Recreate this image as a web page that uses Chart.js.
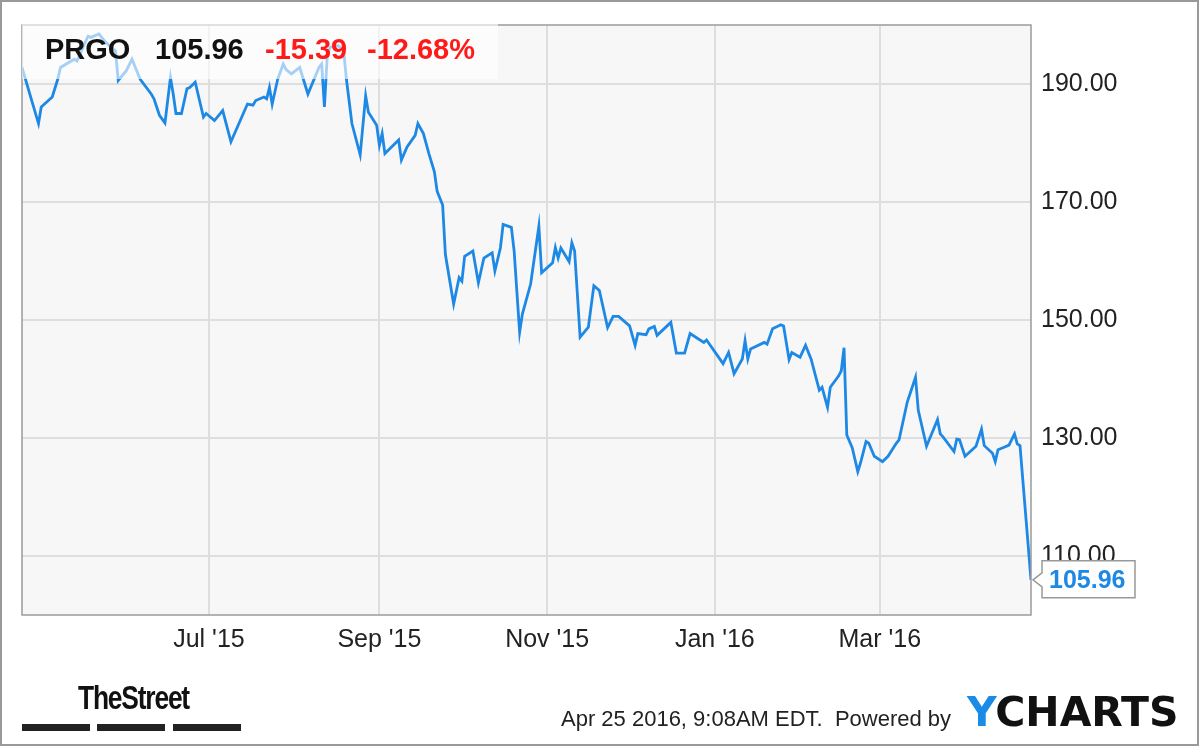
<!DOCTYPE html>
<html>
<head>
<meta charset="utf-8">
<script src="https://cdn.jsdelivr.net/npm/chart.js@4.4.1/dist/chart.umd.min.js"></script>
<style>
  html, body { margin: 0; padding: 0; background: #fff; }
  #wrap { position: relative; width: 1200px; height: 747px; overflow: hidden; font-family: "Liberation Sans", Arial, sans-serif; }
  #chart { position: absolute; left: 0; top: 0; }
  .frame { position: absolute; left: 0; top: 0; width: 1199px; height: 746px; box-sizing: border-box; border: 2px solid #999; pointer-events: none; }
  .head { position: absolute; left: 22px; top: 22px; width: 476px; height: 57px; background: rgba(255,255,255,0.6); }
  .hd { position: absolute; top: 35px; font-size: 29px; line-height: 29px; font-weight: bold; white-space: nowrap; }
  .street { position: absolute; left: 78px; top: 681px; font-family: "Liberation Sans", Arial, sans-serif; font-weight: bold; font-size: 33px; line-height: 33px; letter-spacing: -1.5px; color: #111; transform: scaleX(0.8); transform-origin: 0 0; }
  .bar { position: absolute; top: 724px; height: 7px; background: #222; }
  .stamp { position: absolute; left: 561px; top: 708px; font-size: 22px; line-height: 22px; color: #222; white-space: nowrap; }
  .ych { position: absolute; left: 967px; top: 692px; font-family: "DejaVu Sans", sans-serif; font-weight: bold; font-size: 41px; line-height: 41px; color: #111; white-space: nowrap; }
</style>
</head>
<body>
<div id="wrap">
  <canvas id="chart" width="1200" height="747"></canvas>
  <div class="head"></div>
  <div class="hd" style="left:45px;color:#111">PRGO</div>
  <div class="hd" style="left:155px;color:#111">105.96</div>
  <div class="hd" style="left:265px;color:#ff1a1a">-15.39</div>
  <div class="hd" style="left:367px;color:#ff1a1a">-12.68%</div>
  <div class="street">TheStreet</div>
  <div class="bar" style="left:22px;width:68px"></div>
  <div class="bar" style="left:97px;width:68px"></div>
  <div class="bar" style="left:173px;width:68px"></div>
  <div class="stamp">Apr 25 2016, 9:08AM EDT.&nbsp; Powered by</div>
  <div class="ych"><span style="color:#1a8be6">Y</span>CHARTS</div>
  <div class="frame"></div>
</div>
<script>
// PRGO daily close
const dates = [
  '2015-04-24','2015-04-30','2015-05-01','2015-05-05','2015-05-07','2015-05-08','2015-05-13','2015-05-14',
  '2015-05-18','2015-05-19','2015-05-22','2015-05-24','2015-05-28','2015-05-29','2015-06-01','2015-06-03',
  '2015-06-06','2015-06-10','2015-06-11','2015-06-13','2015-06-15','2015-06-17','2015-06-18','2015-06-19',
  '2015-06-21','2015-06-23','2015-06-24','2015-06-26','2015-06-29','2015-06-30','2015-07-03','2015-07-06',
  '2015-07-09','2015-07-15','2015-07-17','2015-07-18','2015-07-21','2015-07-22','2015-07-23','2015-07-24',
  '2015-07-26','2015-07-28','2015-07-29','2015-07-31','2015-08-03','2015-08-06','2015-08-10','2015-08-11',
  '2015-08-12','2015-08-13','2015-08-14','2015-08-17','2015-08-19','2015-08-20','2015-08-22','2015-08-25',
  '2015-08-27','2015-08-28','2015-08-31','2015-09-01','2015-09-02','2015-09-03','2015-09-08','2015-09-09',
  '2015-09-11','2015-09-14','2015-09-15','2015-09-17','2015-09-19','2015-09-21','2015-09-22','2015-09-24',
  '2015-09-25','2015-09-28','2015-09-30','2015-10-01','2015-10-02','2015-10-05','2015-10-07','2015-10-09',
  '2015-10-12','2015-10-13','2015-10-15','2015-10-16','2015-10-19','2015-10-20','2015-10-22','2015-10-23',
  '2015-10-26','2015-10-29','2015-10-30','2015-11-03','2015-11-04','2015-11-05','2015-11-06','2015-11-09',
  '2015-11-10','2015-11-11','2015-11-13','2015-11-16','2015-11-18','2015-11-20','2015-11-23','2015-11-25',
  '2015-11-27','2015-12-01','2015-12-03','2015-12-04','2015-12-07','2015-12-08','2015-12-10','2015-12-11',
  '2015-12-16','2015-12-18','2015-12-21','2015-12-23','2015-12-28','2015-12-29','2016-01-04','2016-01-06',
  '2016-01-08','2016-01-11','2016-01-12','2016-01-13','2016-01-14','2016-01-19','2016-01-20','2016-01-22',
  '2016-01-25','2016-01-26','2016-01-28','2016-01-29','2016-02-01','2016-02-03','2016-02-05','2016-02-08',
  '2016-02-09','2016-02-11','2016-02-12','2016-02-15','2016-02-16','2016-02-17','2016-02-18','2016-02-20',
  '2016-02-22','2016-02-23','2016-02-25','2016-02-26','2016-02-28','2016-03-02','2016-03-04','2016-03-07',
  '2016-03-08','2016-03-11','2016-03-14','2016-03-15','2016-03-18','2016-03-22','2016-03-23','2016-03-24',
  '2016-03-28','2016-03-29','2016-03-30','2016-04-01','2016-04-05','2016-04-07','2016-04-08','2016-04-11',
  '2016-04-12','2016-04-13','2016-04-15','2016-04-17','2016-04-19','2016-04-20','2016-04-21','2016-04-25'
];
const prices = [
  192.8,183.3,186.1,187.8,190.8,192.8,194.2,193.9,
  198.1,197.9,198.5,197.3,195.6,190.6,192.3,194.2,
  190.8,188.3,187.5,184.7,183.4,191.1,188.3,185.0,
  185.0,189.2,189.4,190.3,184.4,185.0,183.8,185.5,
  180.2,186.6,186.4,187.2,187.8,187.5,189.4,186.6,
  190.8,193.4,192.5,191.7,192.8,188.3,192.8,193.4,
  186.1,194.5,196.2,196.5,195.6,190.8,183.3,178.0,
  188.0,185.2,183.0,179.6,181.6,178.2,180.5,177.1,
  179.3,181.3,183.3,181.6,178.2,175.1,171.8,169.5,
  161.1,152.7,157.2,156.6,160.8,161.7,156.3,160.5,
  161.4,158.3,162.2,166.2,165.7,161.7,147.9,151.0,
  156.1,165.9,158.0,159.7,162.3,160.5,162.2,159.9,
  163.1,161.7,147.1,148.8,155.8,155.0,148.7,150.6,
  150.6,149.0,145.7,147.7,147.5,148.5,148.9,147.4,
  149.6,144.4,144.4,147.7,146.2,146.6,142.6,144.5,
  140.9,143.4,146.5,143.4,145.1,146.2,145.9,148.5,
  149.2,149.0,143.3,144.5,143.7,145.7,143.4,138.1,
  138.6,135.2,138.6,140.5,141.4,145.3,130.5,128.3,
  124.3,125.8,129.4,129.1,126.9,126.0,126.9,129.1,
  129.7,136.1,140.3,134.7,128.6,133.1,130.7,130.2,
  127.7,129.8,129.7,126.9,128.6,131.5,128.7,127.4,
  126.0,128.0,128.4,128.8,130.7,129.0,128.7,105.96
];
const xTickDates = ['2015-07-01', '2015-09-01', '2015-11-01', '2016-01-01', '2016-03-01'];
const xTickLabels = ["Jul '15", "Sep '15", "Nov '15", "Jan '16", "Mar '16"];
const yTicks = [110, 130, 150, 170, 190];

const lineBlue = '#1e88e5';
const xTickVals = xTickDates.map(d => Date.parse(d));

const plotFrame = {
  id: 'plotFrame',
  beforeDraw(chart) {
    const a = chart.chartArea, c = chart.ctx;
    c.save();
    c.fillStyle = '#f7f7f7';
    c.fillRect(a.left, a.top, a.right - a.left, a.bottom - a.top);
    c.restore();
  },
  afterDatasetsDraw(chart) {
    const a = chart.chartArea, c = chart.ctx;
    c.save();
    c.strokeStyle = '#9a9a9a';
    c.lineWidth = 1.5;
    c.strokeRect(a.left, a.top, a.right - a.left, a.bottom - a.top);

    // last value flag
    const meta = chart.getDatasetMeta(0);
    const pt = meta.data[meta.data.length - 1];
    const x = pt.x + 2, y = pt.y;
    const bx = x + 9, r = x + 102, t = y - 19, b = y + 18;
    c.beginPath();
    c.moveTo(x, y);
    c.lineTo(bx, y - 7);
    c.lineTo(bx, t);
    c.lineTo(r, t);
    c.lineTo(r, b);
    c.lineTo(bx, b);
    c.lineTo(bx, y + 7);
    c.closePath();
    c.fillStyle = '#fff';
    c.fill();
    c.strokeStyle = '#999';
    c.lineWidth = 1.5;
    c.stroke();
    c.fillStyle = lineBlue;
    c.font = 'bold 25px "Liberation Sans", Arial, sans-serif';
    c.textBaseline = 'middle';
    c.textAlign = 'left';
    c.fillText(prices[prices.length - 1].toFixed(2), bx + 7, y + 1);
    c.restore();
  }
};

const ctx = document.getElementById('chart').getContext('2d');
const chart = new Chart(ctx, {
  type: 'line',
  data: {
    datasets: [{
      label: 'PRGO',
      data: dates.map((d, i) => ({ x: Date.parse(d), y: prices[i] })),
      borderColor: lineBlue,
      borderWidth: 2.8,
      fill: false,
      tension: 0,
      pointRadius: 0
    }]
  },
  options: {
    responsive: false,
    animation: false,
    layout: { padding: { left: 22, top: 22, right: 0, bottom: 0 } },
    plugins: {
      legend: { display: false },
      tooltip: { enabled: false }
    },
    scales: {
      x: {
        type: 'linear',
        min: Date.parse('2015-04-24'),
        max: Date.parse('2016-04-25'),
        afterBuildTicks: s => { s.ticks = xTickVals.map(v => ({ value: v })); },
        afterFit: s => { s.height = 132; },
        grid: { color: '#dedede', lineWidth: 2, drawTicks: false },
        border: { display: false },
        ticks: {
          color: '#222',
          font: { size: 25, family: '"Liberation Sans", Arial, sans-serif' },
          padding: 10,
          maxRotation: 0,
          autoSkip: false,
          callback: v => xTickLabels[xTickVals.indexOf(v)]
        }
      },
      y: {
        position: 'right',
        min: 100,
        max: 200,
        afterBuildTicks: s => { s.ticks = yTicks.map(v => ({ value: v })); },
        afterFit: s => { s.width = 169; },
        grid: { color: '#dedede', lineWidth: 2, drawTicks: false },
        border: { display: false },
        ticks: {
          color: '#222',
          font: { size: 25, family: '"Liberation Sans", Arial, sans-serif' },
          padding: 10,
          callback: v => v.toFixed(2)
        }
      }
    }
  },
  plugins: [plotFrame]
});
</script>
</body>
</html>
